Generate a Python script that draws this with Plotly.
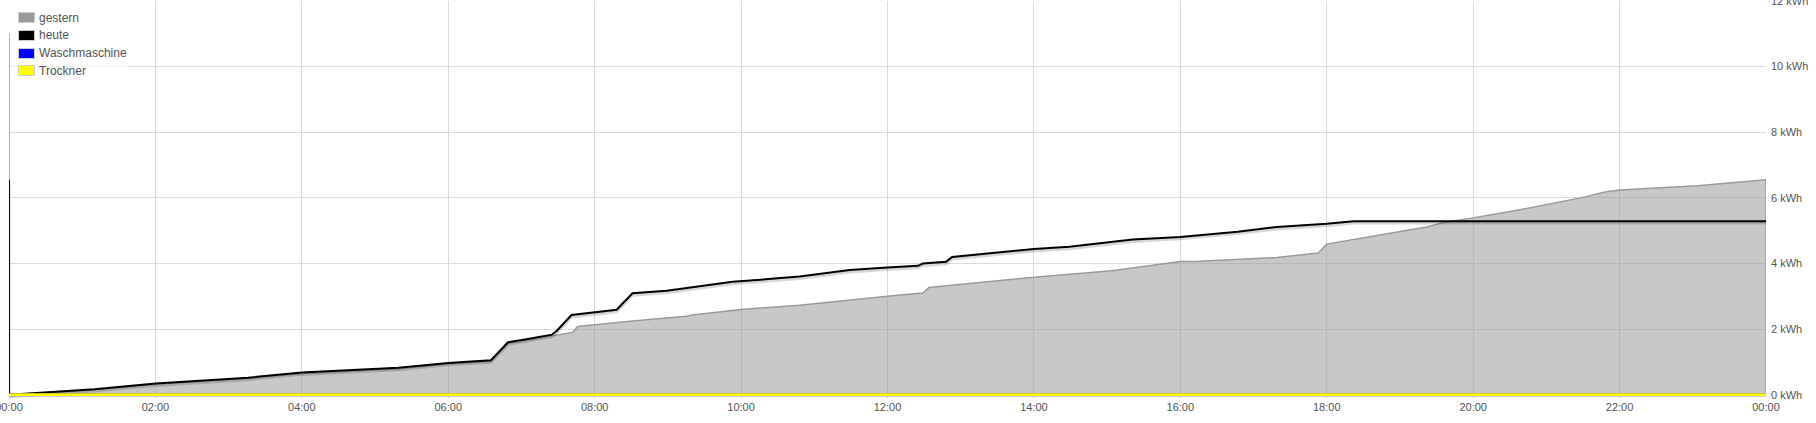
import plotly.graph_objects as go

# Zeitpunkte (HH:MM) und kumulierter Verbrauch in kWh
heute_zeit = ["00:00", "00:00", "01:10", "02:00", "03:16", "04:00", "05:19", "06:00",
              "06:35", "06:49", "07:04", "07:25", "07:29", "07:41", "08:18", "08:31",
              "08:59", "09:26", "09:53", "10:48", "11:29", "12:00", "12:25", "12:29",
              "12:48", "12:53", "13:32", "14:00", "14:29", "15:21", "16:00", "16:47",
              "17:19", "18:00", "18:22", "24:00"]
heute_kwh = [6.55, 0.0, 0.17, 0.34, 0.52, 0.68, 0.82, 0.97,
             1.05, 1.60, 1.69, 1.83, 1.95, 2.43, 2.59, 3.09,
             3.17, 3.30, 3.44, 3.60, 3.80, 3.88, 3.93, 4.00,
             4.05, 4.20, 4.35, 4.44, 4.51, 4.73, 4.81, 4.97,
             5.11, 5.21, 5.29, 5.29]

gestern_zeit = ["00:00", "00:00", "01:10", "02:00", "03:16", "04:00", "05:20", "06:00",
                "06:35", "06:49", "07:04", "07:25", "07:42", "07:46", "08:31", "09:15",
                "09:20", "10:00", "10:48", "12:00", "12:29", "12:34", "14:00", "15:04",
                "16:00", "16:15", "17:19", "17:53", "18:00", "18:53", "19:22", "19:37",
                "20:00", "20:36", "21:32", "21:48", "22:00", "23:04", "24:00", "24:00"]
gestern_kwh = [11.0, 0.0, 0.15, 0.32, 0.50, 0.65, 0.79, 0.94,
               1.02, 1.57, 1.66, 1.80, 1.90, 2.08, 2.25, 2.39,
               2.43, 2.60, 2.73, 3.00, 3.10, 3.27, 3.58, 3.78,
               4.06, 4.07, 4.18, 4.32, 4.59, 4.93, 5.11, 5.26,
               5.39, 5.62, 6.03, 6.18, 6.24, 6.37, 6.55, 0.0]

geraet_zeit = ["00:00", "24:00"]
waschmaschine_kwh = [0.0, 0.0]
trockner_kwh = [0.0, 0.0]

serien = ["gestern", "heute", "Waschmaschine", "Trockner"]
farben = ["#999999", "#000000", "#0000ff", "#ffff00"]

x_ticks = list(range(0, 25, 2))
y_ticks = list(range(0, 13, 2))


def stunden(zeiten):
    out = []
    for z in zeiten:
        h, m = z.split(":")
        out.append(int(h) + int(m) / 60)
    return out


FAMILY = "Arial, Liberation Sans, sans-serif"
font = dict(family=FAMILY, size=11, color="#545454")

fig = go.Figure()
# y: flaeche gestern, y2: schatten (2px tiefer), y3: linien
fig.add_trace(go.Scatter(x=stunden(gestern_zeit), y=gestern_kwh, mode="lines",
                         line=dict(color=farben[0], width=1.5),
                         fill="tozeroy", fillcolor="rgba(153,153,153,0.54)",
                         showlegend=False, hoverinfo="skip"))
fig.add_trace(go.Scatter(x=stunden(heute_zeit), y=heute_kwh, mode="lines", yaxis="y2",
                         line=dict(color="rgba(0,0,0,0.16)", width=3),
                         showlegend=False, hoverinfo="skip"))
fig.add_trace(go.Scatter(x=stunden(heute_zeit), y=heute_kwh, mode="lines", yaxis="y3",
                         line=dict(color=farben[1], width=2), showlegend=False))
fig.add_trace(go.Scatter(x=stunden(geraet_zeit), y=waschmaschine_kwh, mode="lines", yaxis="y3",
                         line=dict(color=farben[2], width=3), showlegend=False))
fig.add_trace(go.Scatter(x=stunden(geraet_zeit), y=trockner_kwh, mode="lines", yaxis="y3",
                         line=dict(color=farben[3], width=3), showlegend=False))

# legende nachgebaut: halbtransparenter kasten, farbige kaestchen, text
fig.add_shape(type="rect", xref="paper", yref="paper", layer="above",
              xsizemode="pixel", ysizemode="pixel", xanchor=0, yanchor=1,
              x0=1, x1=118, y0=-1, y1=-77,
              fillcolor="rgba(255,255,255,0.6)", line=dict(width=0))
for i, (name, farbe) in enumerate(zip(serien, farben)):
    fig.add_annotation(x=0, y=1, xref="paper", yref="paper", xanchor="center", yanchor="middle",
                       xshift=17, yshift=-16.5 - 17.8 * i, text=" ", showarrow=False,
                       width=14, height=8, bgcolor=farbe, bordercolor="#cccccc",
                       borderwidth=1, borderpad=0.5)
    fig.add_annotation(x=0, y=1, xref="paper", yref="paper", xanchor="left", yanchor="middle",
                       xshift=28, yshift=-16.5 - 17.8 * i, text=name, showarrow=False,
                       font=dict(family=FAMILY, size=12, color="#545454"))

# etwas platz unter der nulllinie, damit die gelbe linie nicht abgeschnitten wird
y_range = [-0.1, 12]

fig.update_layout(
    width=1816, height=423,
    margin=dict(l=9, r=50, t=1, b=25, autoexpand=False),
    paper_bgcolor="white", plot_bgcolor="white",
    font=font,
    showlegend=False,
    xaxis=dict(range=[0, 24], tickvals=x_ticks,
               ticktext=["%02d:00" % (h % 24) for h in x_ticks],
               showgrid=True, gridcolor="#dadada", gridwidth=1,
               zeroline=False, showline=False, ticks="", tickfont=font,
               automargin=False, ticklabeloverflow="allow", ticklabelstandoff=1),
    yaxis=dict(range=y_range, tickvals=y_ticks,
               ticktext=["%d kWh" % v for v in y_ticks], side="right",
               showgrid=True, gridcolor="#dadada", gridwidth=1,
               zeroline=False, showline=False, ticks="", tickfont=font,
               automargin=False, ticklabeloverflow="allow", ticklabelstandoff=4),
    yaxis2=dict(range=[y_range[0] + 0.06, y_range[1] + 0.06], overlaying="y", visible=False),
    yaxis3=dict(range=y_range, overlaying="y", visible=False),
)

# body-rand der seite entfernen, damit die grafik bei 0,0 beginnt
fig.write_html("out.html", config={"displayModeBar": False},
               post_script="document.body.style.margin='0';")
